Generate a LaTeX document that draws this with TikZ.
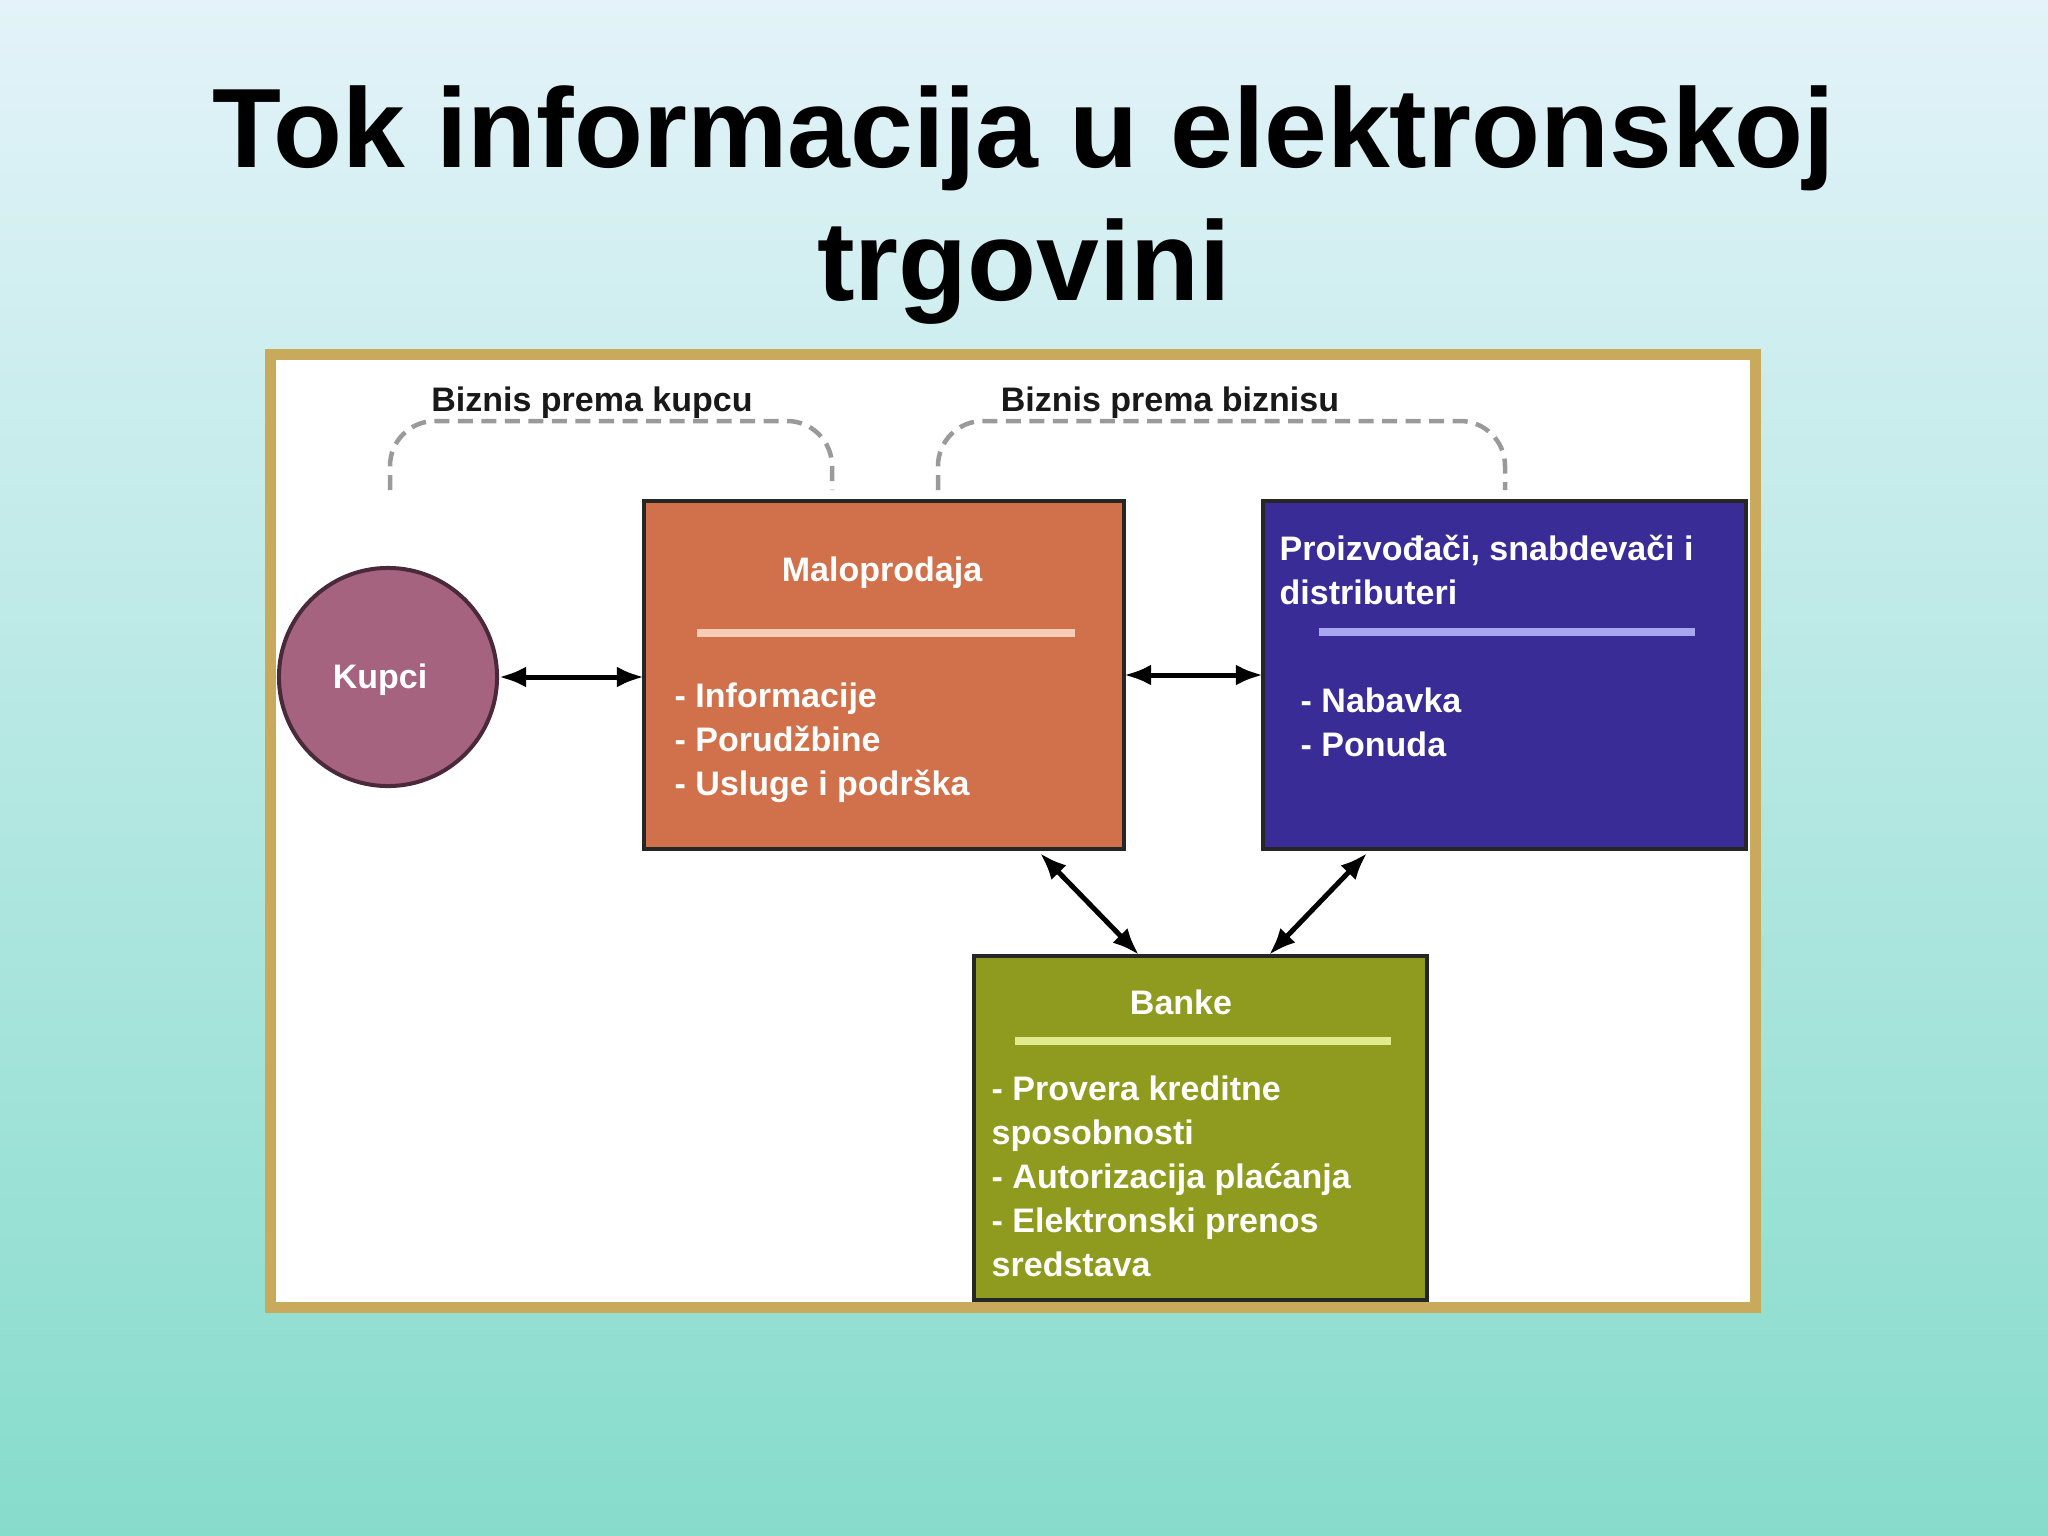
\documentclass[tikz,border=0pt]{standalone}
\usepackage{fontspec}
\setmainfont{Liberation Sans}
\usetikzlibrary{arrows.meta,calc}
\definecolor{bgtop}{HTML}{E3F3F9}
\definecolor{bgbot}{HTML}{86DCCB}
\definecolor{gold}{HTML}{C9A95C}
\definecolor{kup}{HTML}{A5637F}
\definecolor{kupline}{HTML}{4A2A3A}
\definecolor{malo}{HTML}{D1714B}
\definecolor{proiz}{HTML}{3A2C97}
\definecolor{banka}{HTML}{8E9B1F}
\definecolor{maloln}{HTML}{F8CDB6}
\definecolor{proizln}{HTML}{A9A7F0}
\definecolor{bankaln}{HTML}{E2EA8E}
\definecolor{dashgray}{HTML}{9A9A9A}
\begin{document}
\begin{tikzpicture}[x=0.01cm,y=-0.01cm,
 box/.style={draw=black!85, line width=0.035cm, inner sep=0, outer sep=0},
 txt/.style={font=\fontsize{9.67pt}{12.5pt}\selectfont\bfseries, text=white, inner sep=0},
 lbl/.style={font=\fontsize{9.67pt}{12.5pt}\selectfont\bfseries, text=black!90, inner sep=0},
 ttl/.style={font=\fontsize{32.1pt}{38pt}\selectfont\bfseries, text=black, inner sep=0, anchor=base},
 arr/.style={line width=0.05cm, {Latex[length=0.27cm,width=0.21cm]}-{Latex[length=0.27cm,width=0.21cm]}},
 brk/.style={dashgray, line width=0.045cm, dash pattern=on 0.15cm off 0.085cm, rounded corners=0.45cm},
 sepline/.style={line width=0.08cm},
]
\useasboundingbox (0,0) rectangle (2048,1536);
\shade[top color=bgtop, bottom color=bgbot] (0,0) rectangle (2048,1536);
% frame
\draw[gold, line width=0.11cm, fill=white] (270.5,354.5) rectangle (1755.5,1307.5);
% title
\node[ttl] (t1) at (1024,167) {Tok informacija u elektronskoj};
\node[ttl] (t2) at (1024,300) {trgovini};
% brackets
\draw[brk] (390,490) -- (390,421) -- (832,421) -- (832,490);
\draw[brk] (938,490) -- (938,421) -- (1505,421) -- (1505,490);
\node[lbl, anchor=base] (lbl1) at (592,411) {Biznis prema kupcu};
\node[lbl, anchor=base] (lbl2) at (1170,411) {Biznis prema biznisu};
% shapes
\node[circle, draw=kupline, fill=kup, minimum size=2.18cm, inner sep=0, line width=0.04cm] (kupci) at (388,677) {};
\node[box, fill=malo, minimum width=4.8cm, minimum height=3.48cm] (malo) at (884,675) {};
\node[box, fill=proiz, minimum width=4.83cm, minimum height=3.48cm] (proiz) at (1504.5,675) {};
\node[box, fill=banka, line width=0.045cm, minimum width=4.53cm, minimum height=3.44cm] (banke) at (1200.5,1128) {};
% separators
\draw[maloln, sepline] (697,633) -- (1075,633);
\draw[proizln, sepline] (1319,632) -- (1695,632);
\draw[bankaln, sepline] (1015,1041) -- (1391,1041);
% texts
\node[txt, anchor=base] (kupt) at (380,688) {Kupci};
\node[txt, anchor=base] (malot) at (882,581) {Maloprodaja};
\node[txt, anchor=base west] (malo1) at (674,707) {- Informacije};
\node[txt, anchor=base west] (malo2) at (674,751) {- Porudžbine};
\node[txt, anchor=base west] (malo3) at (674,795) {- Usluge i podrška};
\node[txt, anchor=base west] (proit1) at (1279,560) {Proizvođači, snabdevači i};
\node[txt, anchor=base west] (proit2) at (1279,604) {distributeri};
\node[txt, anchor=base west] (proi1) at (1300,712) {- Nabavka};
\node[txt, anchor=base west] (proi2) at (1300,756) {- Ponuda};
\node[txt, anchor=base] (bant) at (1181,1014) {Banke};
\node[txt, anchor=base west] (ban1) at (991,1100) {- Provera kreditne};
\node[txt, anchor=base west] (ban2) at (991,1144) {sposobnosti};
\node[txt, anchor=base west] (ban3) at (991,1188) {- Autorizacija plaćanja};
\node[txt, anchor=base west] (ban4) at (991,1232) {- Elektronski prenos};
\node[txt, anchor=base west] (ban5) at (991,1276) {sredstava};
% arrows
\draw[arr] (kupci.east) -- (kupci.east -| malo.west);
\draw[arr] (malo.east) -- (proiz.west);
\draw[arr] ($(malo.south)+(156,4)$) -- ($(banke.north)+(-61.5,-1)$);
\draw[arr] ($(proiz.south)+(-137.5,4)$) -- ($(banke.north)+(68.5,-1)$);
\end{tikzpicture}
\end{document}
